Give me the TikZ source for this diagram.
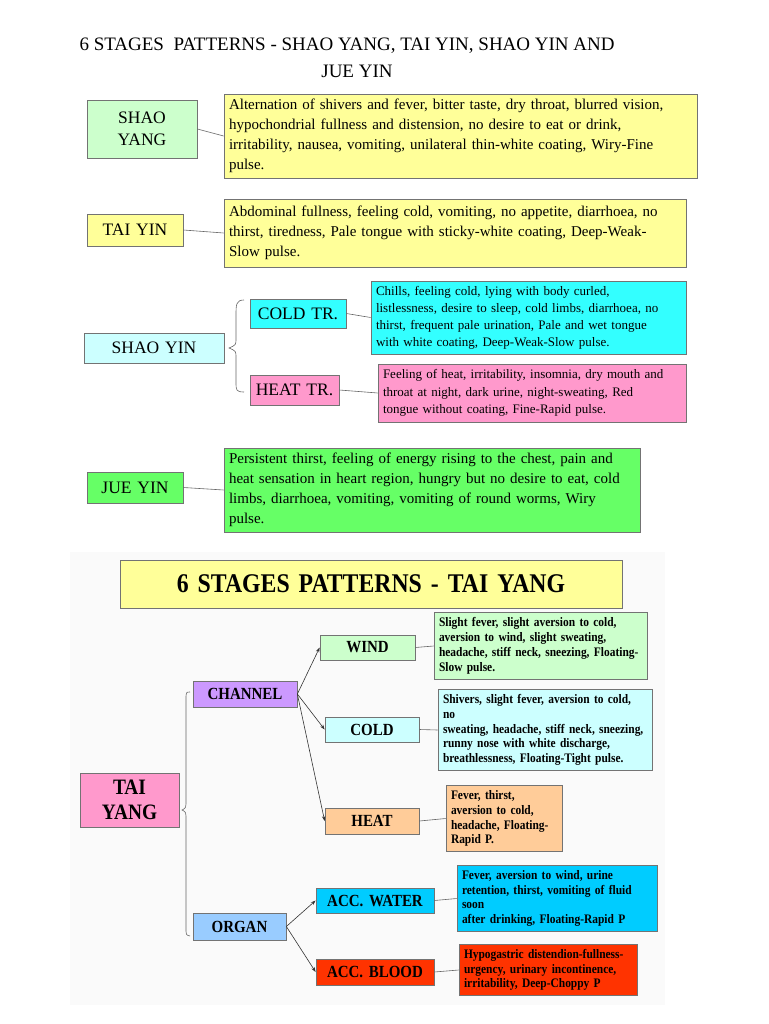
\documentclass[tikz,border=0pt]{standalone}
\usepackage{fontspec}
\setmainfont{Liberation Serif}
\newfontfamily\cond[FakeStretch=0.88]{Liberation Serif}
\usetikzlibrary{arrows.meta}
\definecolor{lgreen}{HTML}{CCFFCC}
\definecolor{lyel}{HTML}{FFFF99}
\definecolor{lcyan}{HTML}{CCFFFF}
\definecolor{cyan2}{HTML}{33FFFF}
\definecolor{pink2}{HTML}{FF99CC}
\definecolor{green2}{HTML}{66FF66}
\definecolor{purp}{HTML}{CC99FF}
\definecolor{lblue}{HTML}{99CCFF}
\definecolor{orng}{HTML}{FFCC99}
\definecolor{blue2}{HTML}{00CCFF}
\definecolor{red2}{HTML}{FF3300}
\newcommand\bx[9]{\node[box,fill=#6,minimum height=#5pt-#3pt,text width=#4pt-#2pt-10pt,align=#8,font=#9] (#1) at ({(#2+#4)/2},{(#3+#5)/2}) {#7};}
\begin{document}
\begin{tikzpicture}[x=1pt,y=-1pt,
  box/.style={draw=black!55,line width=0.7pt,inner sep=5pt},
  lk/.style={draw=black!60,line width=0.6pt},
  ar/.style={draw=black!80,line width=0.6pt,-{Stealth[length=5pt,width=3.5pt]}}]
\useasboundingbox (0,0) rectangle (768,1024);
\fill[black!2] (70,552) rectangle (665,1005);
\node[font=\fontsize{19}{22}\selectfont,anchor=west] (t1) at (76,46) {6 STAGES\ \ PATTERNS - SHAO YANG, TAI YIN, SHAO YIN AND};
\node[font=\fontsize{19}{22}\selectfont] (t2) at (357,71) {JUE YIN};
\def\fa{\fontsize{17.5}{22}\selectfont}
\def\fb{\fontsize{15}{20}\selectfont}
\bx{sy}{87}{100}{197}{158}{lgreen}{SHAO\\YANG}{center}{\fa}
\bx{syd}{224}{94}{697}{178}{lyel}{Alternation of shivers and fever, bitter taste, dry throat, blurred vision,\\hypochondrial fullness and distension, no desire to eat or drink,\\irritability, nausea, vomiting, unilateral thin-white coating, Wiry-Fine\\pulse.}{left}{\fb}
\bx{ty}{87}{214}{183}{246}{lyel}{TAI YIN}{center}{\fa}
\bx{tyd}{224}{199}{686}{267}{lyel}{Abdominal fullness, feeling cold, vomiting, no appetite, diarrhoea, no\\thirst, tiredness, Pale tongue with sticky-white coating, Deep-Weak-\\Slow pulse.}{left}{\fb}
\bx{syn}{84}{333}{224}{363}{lcyan}{SHAO YIN}{center}{\fa}
\bx{ct}{250}{299}{346}{328}{cyan2}{COLD~TR.}{center}{\fa}
\bx{ctd}{371}{281}{686}{354}{cyan2}{Chills, feeling cold, lying with body curled,\\listlessness, desire to sleep, cold limbs, diarrhoea, no\\thirst, frequent pale urination, Pale and wet tongue\\with white coating, Deep-Weak-Slow pulse.}{left}{\fontsize{13}{17}\selectfont}
\bx{ht}{250}{375}{339}{405}{pink2}{\mbox{HEAT TR.}}{center}{\fa}
\bx{htd}{378}{364}{686}{422}{pink2}{Feeling of heat, irritability, insomnia, dry mouth and\\throat at night, dark urine, night-sweating, Red\\tongue without coating, Fine-Rapid pulse.}{left}{\fontsize{13}{17.5}\selectfont}
\bx{jy}{87}{472}{183}{503}{green2}{JUE YIN}{center}{\fa}
\bx{jyd}{224}{448}{640}{532}{green2}{Persistent thirst, feeling of energy rising to the chest, pain and\\heat sensation in heart region, hungry but no desire to eat, cold\\limbs, diarrhoea, vomiting, vomiting of round worms, Wiry\\pulse.}{left}{\fb}
\draw[lk] (sy.east) -- (syd.west);
\draw[lk] (ty.east) -- (tyd.west);
\draw[lk] (jy.east) -- (jyd.west);
\draw[lk] (ct.east) -- (ctd.west);
\draw[lk] (ht.east) -- (htd.west);
\draw[lk] (244,300) .. controls (236,300) and (236,305) .. (236,315) -- (236,338) .. controls (236,345) .. (229,348) .. controls (236,351) .. (236,358) -- (236,382) .. controls (236,390) and (236,392) .. (244,392);
% bottom
\def\fc{\cond\bfseries\fontsize{17}{20}\selectfont}
\def\fd{\cond\bfseries\fontsize{13}{14.8}\selectfont}
\bx{tt}{120}{560}{622}{608}{lyel}{6 STAGES PATTERNS - TAI YANG}{center}{\cond\bfseries\fontsize{27}{30}\selectfont}
\bx{tay}{80}{773}{179}{827}{pink2}{TAI\\YANG}{center}{\cond\bfseries\fontsize{22}{25}\selectfont}
\bx{ch}{193}{681}{297}{707}{purp}{CHANNEL}{center}{\fc}
\bx{og}{193}{913}{286}{940}{lblue}{ORGAN}{center}{\fc}
\bx{wi}{320}{635}{415}{660}{lgreen}{WIND}{center}{\fc}
\bx{wid}{434}{615}{647}{677}{lgreen}{Slight fever, slight aversion to cold,\\aversion to wind, slight sweating,\\headache, stiff neck, sneezing, Floating-\\Slow pulse.}{left}{\fd}
\bx{co}{325}{717}{419}{742}{lcyan}{COLD}{center}{\fc}
\bx{cod}{438}{698}{652}{762}{lcyan}{Shivers, slight fever, aversion to cold, no\\sweating, headache, stiff neck, sneezing,\\runny nose with white discharge,\\breathlessness, Floating-Tight pulse.}{left}{\fd}
\bx{he}{325}{808}{419}{834}{orng}{HEAT}{center}{\fc}
\bx{hed}{446}{787}{562}{850}{orng}{Fever, thirst,\\aversion to cold,\\headache, Floating-\\Rapid P.}{left}{\fd}
\bx{aw}{316}{888}{434}{913}{blue2}{ACC. WATER}{center}{\fc}
\bx{awd}{457}{874}{657}{923}{blue2}{Fever, aversion to wind, urine\\retention, thirst, vomiting of fluid soon\\after drinking, Floating-Rapid P}{left}{\fd}
\bx{ab}{316}{959}{434}{985}{red2}{ACC. BLOOD}{center}{\fc}
\bx{abd}{459}{945}{637}{995}{red2}{Hypogastric distendion-fullness-\\urgency, urinary incontinence,\\irritability, Deep-Choppy P}{left}{\fd}
\draw[lk] (wi.east) -- (wid.west);
\draw[lk] (co.east) -- (cod.west);
\draw[lk] (he.east) -- (hed.west);
\draw[lk] (aw.east) -- (awd.west);
\draw[lk] (ab.east) -- (abd.west);
\draw[ar] (ch.east) -- (wi.west);
\draw[ar] (ch.east) -- (co.west);
\draw[ar] (ch.east) -- (he.west);
\draw[ar] (og.east) -- (aw.west);
\draw[ar] (og.east) -- (ab.west);
\draw[lk] (190,692) .. controls (186,692) .. (186,700) -- (186,800) .. controls (186,808) .. (182,810) .. controls (186,812) .. (186,820) -- (186,928) .. controls (186,935) .. (190,936);
\end{tikzpicture}
\end{document}
